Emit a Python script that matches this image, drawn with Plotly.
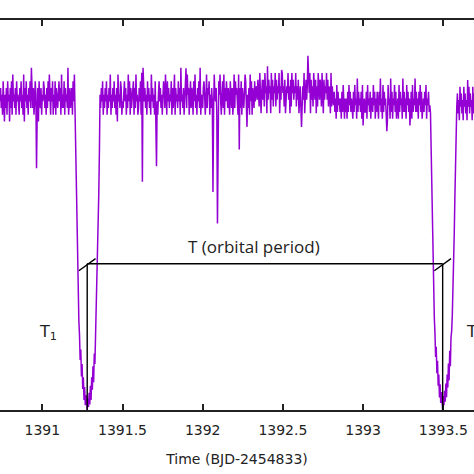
# LIGHT CURVE WITH TWO ECLIPSES AND THE ORBITAL PERIOD MARKED
# ===========================================================

# LIBRARIES AND MODULES
# ----------------------
import plotly.graph_objects as charts

# DATA
# ----
startTime = 1390.736  # time of the first sample (BJD-2454833)
cadence = 0.004  # days between two samples

# Out-of-eclipse flux, one digit per sample: flux = level + (digit - 4.5) * noiseStep
noiseStep = 0.0172
preNoise = ("4635274153" "6274516372" "8453627453" "2647352816" "4735264739" "5362475326"
            "1743625476" "3526374852" "6472537264" "3574628353" "7264539246" "3562748")
midNoiseA = ("5364725364" "7253648253" "6473526184" "5376243574" "6253847263" "4572638452"
             "3647253974" "6352746352" "8463527364" "2574635247" "6385274635" "4726358264"
             "5374629453" "6245738562" "4736527483" "5264739254" "3675248365" "7253647385"
             "4626375842" "5738264753" "6427536248" "3756428563" "7264358746" "5362847265"
             "3746")
midNoiseB = ("6475386257" "4738562947" "5628473658" "3746582647" "8563724658" "4627385746"
             "5836472563" "7364825746" "3658274638" "5472638547" "6385274658" "4736528364")
midNoiseC = ("4635273645" "3526374253" "5263746352" "2637452836" "4536271453" "3627453625"
             "5374625364" "2648352736" "4536274528" "3625473625" "5273645283" "6352746351"
             "4627354836" "3526473625" "5364725463" "4")
postNoise = "4635274635" "2746352847" "36452736"

# Mean flux level of each out-of-eclipse stretch
levelPre = 1.000
levelMidA = 1.000
levelMidB = 1.004
levelMidC = 0.990
levelPost = 0.986

# Flux through the two eclipses, one value per sample
primaryEclipse = [0.968, 0.862, 0.748, 0.652, 0.556, 0.484, 0.428, 0.392, 0.328, 0.355,
                  0.286, 0.318, 0.254, 0.284, 0.226, 0.259, 0.212, 0.238, 0.231, 0.199,
                  0.228, 0.208, 0.244, 0.214, 0.262, 0.226, 0.284, 0.252, 0.312, 0.271,
                  0.345, 0.318, 0.392, 0.412, 0.476, 0.553, 0.649, 0.752, 0.861]
secondaryEclipse = [0.962, 0.858, 0.752, 0.655, 0.566, 0.492, 0.436, 0.398, 0.336, 0.362,
                    0.294, 0.326, 0.262, 0.291, 0.232, 0.266, 0.218, 0.246, 0.209, 0.201,
                    0.236, 0.212, 0.249, 0.221, 0.268, 0.233, 0.291, 0.258, 0.319, 0.276,
                    0.352, 0.312, 0.386, 0.402, 0.441, 0.497, 0.566, 0.648, 0.741, 0.842,
                    0.948]

# Single outlying samples
spikeTimes = [1390.964, 1391.620, 1391.624, 1391.712, 1391.896, 1392.064, 1392.092,
              1392.228, 1392.276, 1392.492, 1392.616, 1392.656, 1393.148]
spikeFluxes = [0.820, 1.065, 0.785, 0.825, 1.076, 0.759, 0.678,
               0.868, 0.926, 1.072, 0.926, 1.108, 0.915]

# Times of minimum T1 and T2, and the height of the period bar
minimumTimes = [1391.280, 1393.496]
periodBarFlux = 0.575

tickValues = [1391, 1391.5, 1392, 1392.5, 1393, 1393.5]
tickLabels = ['1391', '1391.5', '1392', '1392.5', '1393', '1393.5']

# BUILD THE SERIES
# ----------------
def noiseToFlux(digits, level):
    """Turns a digit string into flux values around a level"""
    return [level + (int(d) - 4.5) * noiseStep for d in digits]

fluxes = (noiseToFlux(preNoise, levelPre) + primaryEclipse
          + noiseToFlux(midNoiseA, levelMidA) + noiseToFlux(midNoiseB, levelMidB)
          + noiseToFlux(midNoiseC, levelMidC) + secondaryEclipse
          + noiseToFlux(postNoise, levelPost))
times = [round(startTime + i * cadence, 4) for i in range(len(fluxes))]

# Put the outliers in at their samples
for spikeTime, spikeFlux in zip(spikeTimes, spikeFluxes):
    ix = round((spikeTime - startTime) / cadence)
    fluxes[ix] = spikeFlux

# FIGURE
# ------
axisColor = '#222222'
figure = charts.Figure()
figure.add_trace(charts.Scatter(x=times, y=fluxes, mode='lines',
                                line=dict(color='#9400d3', width=1.5),
                                hoverinfo='skip', showlegend=False))

t1, t2 = minimumTimes
lineStyle = dict(color='black', width=1.4)
figure.add_shape(type='line', x0=t1, x1=t2, y0=periodBarFlux, y1=periodBarFlux, line=lineStyle)
for tm in minimumTimes:
    figure.add_shape(type='line', x0=tm, x1=tm, y0=0.2, y1=periodBarFlux, line=lineStyle)
    figure.add_shape(type='line', x0=tm - 0.052, x1=tm + 0.052,
                     y0=periodBarFlux - 0.018, y1=periodBarFlux + 0.013, line=lineStyle)

figure.add_annotation(x=1392.320, y=0.618, text='T (orbital period)', showarrow=False,
                      font=dict(family='Open Sans', size=17, color=axisColor))
figure.add_annotation(x=1391.036, y=0.40, text='T<sub>1</sub>', showarrow=False,
                      font=dict(family='DejaVu Sans', size=16, color=axisColor))
figure.add_annotation(x=1393.632, y=0.40, text='T<sub>2</sub>', showarrow=False,
                      xanchor='left', font=dict(family='DejaVu Sans', size=16, color=axisColor))

figure.update_layout(
    width=474, height=474,
    margin=dict(l=0, r=0, t=20, b=64, autoexpand=False),
    paper_bgcolor='white', plot_bgcolor='white',
    font=dict(family='DejaVu Sans', size=14, color=axisColor),
    xaxis=dict(range=[1390.7363, 1393.6914], tickvals=tickValues, ticktext=tickLabels,
               automargin=False,
               showline=True, linecolor=axisColor, linewidth=1.5, mirror='ticks',
               ticks='inside', ticklen=6, tickwidth=1.5, tickcolor=axisColor,
               ticklabelstandoff=6, showgrid=False, zeroline=False,
               tickfont=dict(family='DejaVu Sans', size=14, color=axisColor),
               title=dict(text='Time (BJD-2454833)', standoff=18,
                          font=dict(family='DejaVu Sans', size=14, color=axisColor))),
    yaxis=dict(range=[0.2, 1.2], visible=False, automargin=False),
)

# The page has a default body margin, drop it so the figure fills the window
figure.write_html('out.html', config={'displayModeBar': False},
                  post_script="document.body.style.margin = '0';")
